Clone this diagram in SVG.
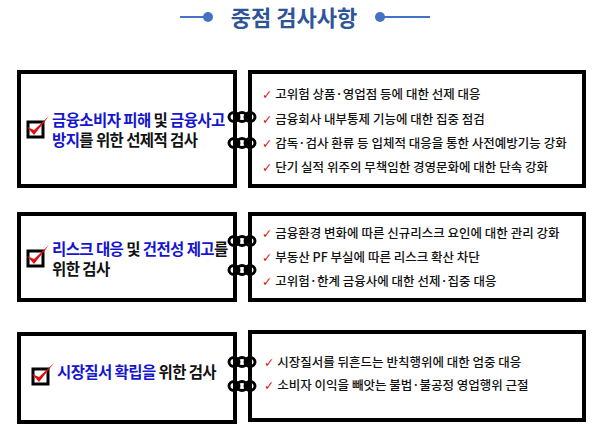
<svg xmlns="http://www.w3.org/2000/svg" width="603" height="427" viewBox="0 0 603 427">
<defs>
<style>
.box{fill:#fff;stroke:#000;stroke-width:4}
.lt{font-family:"Noto Sans CJK KR",sans-serif;font-weight:bold;font-size:15.5px;fill:#111;letter-spacing:-0.6px}
.b{fill:#1515d0}
.rt{font-family:"Noto Sans CJK KR",sans-serif;font-weight:500;font-size:12.5px;fill:#111}
.ck{fill:#e01010;font-family:"DejaVu Sans",sans-serif;font-weight:bold}
.ring{fill:none;stroke:#000;stroke-width:3}
</style>
<g id="chain">
<ellipse class="ring" cx="-8" cy="0" rx="5" ry="4.5"/>
<ellipse class="ring" cx="0" cy="0" rx="5" ry="4.5"/>
<ellipse class="ring" cx="8" cy="0" rx="5" ry="4.5"/>
</g>
<g id="cbox">
<rect x="0" y="0" width="15" height="15" fill="#fff" stroke="#000" stroke-width="3"/>
<path d="M-1 5 L6 13 L21 -6 L6 8 Z" fill="#e01010"/>
</g>
</defs>
<g id="title">
<line x1="180" y1="17" x2="205" y2="17" stroke="#4472c4" stroke-width="2"/>
<circle cx="208" cy="17" r="5" fill="#4472c4"/>
<circle cx="380" cy="17" r="5" fill="#4472c4"/>
<line x1="383" y1="17" x2="430" y2="17" stroke="#4472c4" stroke-width="2"/>
<text x="294" y="26" text-anchor="middle" font-family="Noto Sans CJK KR,sans-serif" font-weight="bold" font-size="22" fill="#2f5597">중점 검사사항</text>
</g>
<g id="n1">
<rect class="box" x="19" y="72" width="216" height="114"/>
<rect class="box" x="250" y="72" width="334" height="114"/>
<use href="#cbox" x="28" y="122"/>
<text class="lt" x="52" y="126"><tspan class="b">금융소비자 피해</tspan> 및 <tspan class="b">금융사고</tspan></text>
<text class="lt" x="52" y="146"><tspan class="b">방지</tspan>를 위한 선제적 검사</text>
<text class="rt" x="262" y="99"><tspan class="ck">✓</tspan> 고위험 상품·영업점 등에 대한 선제 대응</text>
<text class="rt" x="262" y="124"><tspan class="ck">✓</tspan> 금융회사 내부통제 기능에 대한 집중 점검</text>
<text class="rt" x="262" y="148"><tspan class="ck">✓</tspan> 감독·검사 환류 등 입체적 대응을 통한 사전예방기능 강화</text>
<text class="rt" x="262" y="172"><tspan class="ck">✓</tspan> 단기 실적 위주의 무책임한 경영문화에 대한 단속 강화</text>
</g>
<g id="n2">
<rect class="box" x="19" y="214" width="216" height="86"/>
<rect class="box" x="250" y="214" width="334" height="86"/>
<use href="#cbox" x="28" y="251"/>
<text class="lt" x="52" y="255"><tspan class="b">리스크 대응</tspan> 및 <tspan class="b">건전성 제고</tspan>를</text>
<text class="lt" x="52" y="275">위한 검사</text>
<text class="rt" x="262" y="238"><tspan class="ck">✓</tspan> 금융환경 변화에 따른 신규리스크 요인에 대한 관리 강화</text>
<text class="rt" x="262" y="262"><tspan class="ck">✓</tspan> 부동산 PF 부실에 따른 리스크 확산 차단</text>
<text class="rt" x="262" y="286"><tspan class="ck">✓</tspan> 고위험·한계 금융사에 대한 선제·집중 대응</text>
</g>
<g id="n3">
<rect class="box" x="19" y="334" width="216" height="88"/>
<rect class="box" x="250" y="332" width="334" height="88"/>
<use href="#cbox" x="33" y="369"/>
<text class="lt" x="57" y="378"><tspan class="b">시장질서 확립을</tspan> 위한 검사</text>
<text class="rt" x="264" y="367"><tspan class="ck">✓</tspan> 시장질서를 뒤흔드는 반칙행위에 대한 엄중 대응</text>
<text class="rt" x="264" y="390"><tspan class="ck">✓</tspan> 소비자 이익을 빼앗는 불법·불공정 영업행위 근절</text>
</g>
<g id="connectors">
<use href="#chain" x="242" y="117"/>
<use href="#chain" x="242" y="143"/>
<use href="#chain" x="242" y="241"/>
<use href="#chain" x="242" y="270"/>
<use href="#chain" x="242" y="362"/>
<use href="#chain" x="242" y="386"/>
</g>
</svg>
